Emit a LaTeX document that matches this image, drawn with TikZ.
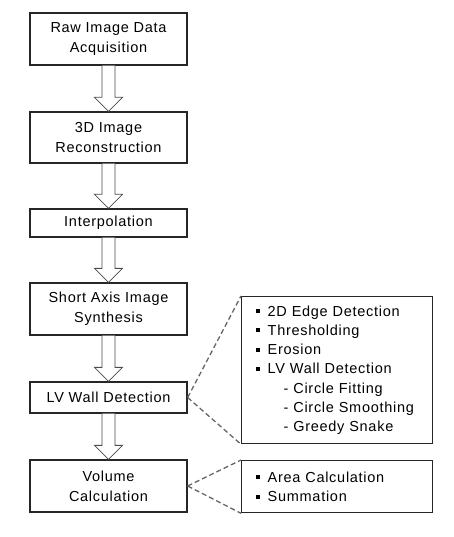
\documentclass[tikz,border=0pt]{standalone}
\usepackage{fontspec}
\setmainfont[LetterSpace=5]{Liberation Sans}
\usetikzlibrary{calc}
\newcommand\sqbul{\rule[0.2em]{0.28em}{0.28em}\hspace{0.55em}}
\newcommand\subitm{\hspace*{28pt}- }
\newcommand\stagearrow[2]{\draw[blockarrow] ($(#1.south)+(-6.5,0)$) -- ($(#2.north)+(-6.5,-14)$) -- ($(#2.north)+(-14,-14)$) -- (#2.north) -- ($(#2.north)+(14,-14)$) -- ($(#2.north)+(6.5,-14)$) -- ($(#1.south)+(6.5,0)$);}
\tikzset{
  txt/.style={font=\fontsize{14.5}{20}\selectfont},
  stage/.style={txt, draw=black!85, line width=1.3pt, minimum width=157pt, align=center, inner sep=0pt},
  listbox/.style={draw=black!85, line width=1.3pt, minimum width=191pt, text width=163pt, inner xsep=14pt, inner ysep=0pt, align=left, anchor=north west, font=\fontsize{14.5}{19.3}\selectfont},
  blockarrow/.style={draw=black!70, line width=0.8pt, fill=white},
  link/.style={draw=black!60, dash pattern=on 5pt off 3pt, line width=1.3pt}
}
\begin{document}
\begin{tikzpicture}[x=1pt,y=-1pt]
\useasboundingbox (0,0) rectangle (453,537);
\node[stage, minimum height=52pt] (s1) at (108.5,39) {Raw Image Data\\Acquisition};
\node[stage, minimum height=51pt] (s2) at (108.5,137.5) {3D Image\\Reconstruction};
\node[stage, minimum height=28pt] (s3) at (108.5,223) {Interpolation};
\node[stage, minimum height=52pt] (s4) at (108.5,309) {Short Axis Image\\Synthesis};
\node[stage, minimum height=31pt] (s5) at (108.5,397.5) {LV Wall Detection};
\node[stage, minimum height=52pt] (s6) at (108.5,486) {Volume\\Calculation};
\stagearrow{s1}{s2}
\stagearrow{s2}{s3}
\stagearrow{s3}{s4}
\stagearrow{s4}{s5}
\stagearrow{s5}{s6}
\node[listbox, minimum height=147pt] (l1) at (241,296) {\sqbul 2D Edge Detection\\\sqbul Thresholding\\\sqbul Erosion\\\sqbul LV Wall Detection\\\subitm Circle Fitting\\\subitm Circle Smoothing\\\subitm Greedy Snake};
\node[listbox, minimum height=52pt] (l2) at (241,460) {\sqbul Area Calculation\\\sqbul Summation};
\draw[link] (s5.east) -- (l1.north west);
\draw[link] (s5.east) -- (l1.south west);
\draw[link] (s6.east) -- (l2.north west);
\draw[link] (s6.east) -- (l2.south west);
\end{tikzpicture}
\end{document}
